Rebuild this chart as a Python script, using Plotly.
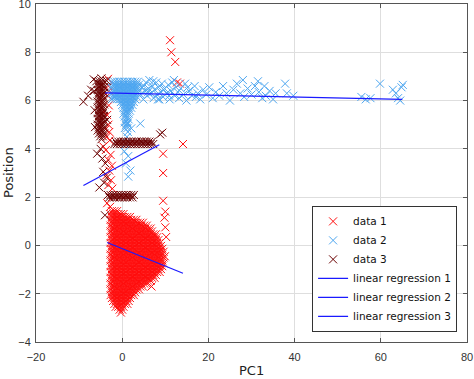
import plotly.graph_objects as go

# ---------------- grid positions (PC1) used by the dense clouds ----------------
grid_a = [-9.0, -8.4, -7.8, -7.2, -6.6, -6.0, -5.4, -4.8, -4.2, -3.6, -3.0, -2.4, -1.8, -1.2,
          -0.6, 0.0, 0.6, 1.2, 1.8, 2.4, 3.0, 3.6, 4.2, 4.8, 5.4, 6.0, 6.6, 7.2, 7.8, 8.4,
          9.0, 9.6, 10.2, 10.8, 11.4, 12.0]
grid_b = [-8.7, -8.1, -7.5, -6.9, -6.3, -5.7, -5.1, -4.5, -3.9, -3.3, -2.7, -2.1, -1.5, -0.9,
          -0.3, 0.3, 0.9, 1.5, 2.1, 2.7, 3.3, 3.9, 4.5, 5.1, 5.7, 6.3, 6.9, 7.5, 8.1, 8.7,
          9.3, 9.9, 10.5, 11.1, 11.7]

# ---------------- data 1 (red): dense cloud rows (Position, PC1 min, PC1 max) ----------------
red_rows = [
    (1.42, -2.8, -1.2), (1.30, -2.8, 0.6), (1.18, -2.8, 2.2), (1.06, -2.8, 3.8),
    (0.94, -2.8, 5.0), (0.82, -2.8, 5.8), (0.70, -2.8, 6.6), (0.58, -2.8, 7.3),
    (0.46, -2.8, 7.8), (0.34, -2.8, 8.3), (0.22, -2.8, 8.8), (0.10, -2.8, 9.2),
    (-0.02, -2.8, 9.5), (-0.14, -2.8, 9.6), (-0.26, -2.8, 9.6), (-0.38, -2.8, 9.6),
    (-0.50, -2.8, 9.6), (-0.62, -2.8, 9.6), (-0.74, -2.8, 9.6), (-0.86, -2.8, 9.4),
    (-0.98, -2.8, 9.1), (-1.10, -2.8, 8.7), (-1.22, -2.8, 8.2), (-1.34, -2.8, 7.6),
    (-1.46, -2.8, 6.8), (-1.58, -2.8, 5.9), (-1.70, -2.8, 5.0), (-1.82, -2.8, 4.0),
    (-1.94, -2.8, 3.3), (-2.06, -2.7, 2.7), (-2.18, -2.5, 2.2), (-2.30, -2.2, 1.7),
    (-2.42, -1.9, 1.2), (-2.54, -1.5, 0.8), (-2.66, -1.1, 0.4), (-2.78, -0.7, 0.0),
]
red_extra_x = [11.1, 11.4, 12.3, 12.7, 13.4, 14.1, 9.5, 9.5, 9.5, 10.0, 10.0, 9.8, 10.2, 9.9, 6.8,
               -3.2, -3.4, -3.1, -3.5, -3.2, -3.0, -3.6, -2.9, -3.8, -2.7, -3.3, -2.4, -3.0,
               -3.7, -2.6, -3.2, -2.3, -3.5, -2.8, -4.4, -3.9, -3.3, -3.0]
red_extra_y = [8.50, 8.00, 7.60, 6.75, 6.70, 4.20, 3.80, 3.00, 1.85, 1.40, 0.75, 1.15, 0.35, -0.45, -1.70,
               6.60, 6.20, 5.80, 5.40, 5.00, 4.70, 4.50, 4.35, 3.95, 3.75, 3.55, 3.30, 3.10,
               2.90, 2.70, 2.50, 2.35, 1.75, 1.60, 4.10, 4.80, 6.90, 6.40]

# ---------------- data 2 (light blue) ----------------
blue_rows = [
    (6.78, -2.6, 3.7), (6.66, -2.6, 3.9), (6.54, -2.6, 3.9), (6.42, -2.6, 3.9),
    (6.30, -2.6, 3.9), (6.18, -2.6, 3.7), (6.06, -2.4, 3.4), (5.94, -0.8, 2.8),
    (5.82, -0.4, 2.4), (5.70, -0.1, 2.1), (5.58, 0.2, 1.9), (5.46, 0.3, 1.8),
    (5.34, 0.4, 1.6), (5.22, 0.5, 1.5), (5.10, 0.6, 1.3), (4.98, 0.6, 1.2), (4.86, 0.6, 1.2),
]
blue_extra_x = [4.3, 4.6, 4.9, 5.2, 5.5, 5.8, 6.1, 6.3, 6.7, 7.0, 7.3, 7.5, 7.9, 8.1, 8.4, 8.6,
                9.0, 9.2, 9.5, 9.8, 10.3, 10.7, 11.0, 11.3, 11.6, 12.2, 12.5, 12.9,
                13.6, 14.2, 14.6, 14.9, 15.5, 16.2, 16.8, 17.5, 18.1, 18.8, 19.5, 20.2, 21.0, 21.7,
                22.5, 23.4, 24.2, 25.0, 25.8, 26.6, 27.4, 28.0, 28.3, 29.1, 30.0, 30.8, 31.5,
                31.7, 32.5, 33.0, 33.3, 34.2, 35.0, 35.6, 37.8, 38.2, 39.7, 55.5, 56.5, 57.6,
                59.8, 62.8, 63.5, 64.0, 64.5, 64.8, 65.1,
                1.2, 2.1, 4.2, 0.5, 1.4, 0.9, 1.9, 1.4, 1.1, 0.8, 1.3,
                5.0, 6.0, 7.2, 8.3, 9.6, 10.9, 12.0, 13.2, 15.2, 17.1]
blue_extra_y = [6.25, 6.55, 6.05, 6.40, 6.75, 6.20, 6.50, 6.85, 6.30, 6.60, 6.10, 6.45, 6.75, 6.25,
                6.55, 6.05, 6.35, 6.70, 6.15, 6.50, 6.30, 6.65, 6.05, 6.40, 6.75, 6.20, 6.55, 6.35,
                6.50, 6.25, 6.70, 6.00, 6.40, 6.20, 6.60, 6.30, 6.05, 6.45, 6.25, 6.55, 6.10, 6.35,
                6.20, 6.60, 6.30, 6.00, 6.45, 6.70, 6.30, 6.85, 6.15, 6.50, 6.25, 6.60, 6.80,
                6.35, 6.10, 6.60, 6.20, 6.40, 6.05, 6.30, 6.70, 6.30, 6.20, 6.15, 6.05, 6.10,
                6.70, 6.45, 6.30, 6.10, 6.00, 6.55, 6.65,
                5.05, 4.85, 5.05, 3.90, 3.70, 3.40, 3.10, 2.85, 4.50, 4.20, 4.70,
                6.60, 6.35, 6.80, 6.05, 6.45, 6.20, 6.85, 6.10, 6.55, 6.15]

# ---------------- data 3 (dark red) ----------------
dark_rows = [
    (6.80, -6.2, -3.9), (6.68, -5.9, -4.0), (6.56, -5.9, -4.0), (6.44, -5.9, -4.0),
    (6.32, -5.9, -4.0), (6.20, -5.9, -4.0), (6.08, -5.9, -4.0), (5.96, -5.9, -4.0),
    (5.84, -5.9, -4.0), (5.72, -5.9, -4.0), (5.60, -5.9, -4.0), (5.48, -5.9, -4.0),
    (5.36, -5.9, -4.0), (5.24, -5.9, -4.0), (5.12, -5.8, -4.0), (5.00, -5.8, -4.0),
    (4.88, -5.7, -4.1), (4.76, -5.7, -4.1), (4.64, -5.6, -4.1), (4.52, -5.5, -4.2),
    (4.40, -5.3, -4.3),
    (4.30, -1.9, 7.4), (4.20, -1.9, 7.4),
    (2.09, -3.5, 2.8), (1.99, -3.5, 2.8),
]
dark_extra_x = [-9.0, -7.9, -7.2, -6.6, -4.8, -3.6, -6.5, -6.4, -3.5, -6.3,
                8.8, 9.3, -5.8, -3.9, -4.4, -5.0, -4.6, -4.2, -3.6, -4.0, -5.3]
dark_extra_y = [5.95, 6.20, 6.45, 6.88, 6.92, 6.82, 6.40, 5.60, 5.20, 4.90,
                4.60, 4.67, 3.80, 3.40, 3.05, 4.00, 3.60, 2.60, 2.80, 1.25, 2.40]

# ---------------- regression lines ----------------
reg1_x = [-3.5, 14.1]
reg1_y = [0.12, -1.15]
reg2_x = [-4.0, 65.0]
reg2_y = [6.32, 6.05]
reg3_x = [-9.0, 8.6]
reg3_y = [2.48, 4.17]

x_ticks = [-20, 0, 20, 40, 60, 80]
y_ticks = [-4, -2, 0, 2, 4, 6, 8, 10]


def build(rows, ex_x, ex_y):
    xs, ys = [], []
    for i, (yv, lo, hi) in enumerate(rows):
        grid = grid_a if i % 2 == 0 else grid_b
        for xv in grid:
            if lo <= xv <= hi:
                xs.append(xv)
                ys.append(yv)
    return xs + list(ex_x), ys + list(ex_y)


r_x, r_y = build(red_rows, red_extra_x, red_extra_y)
b_x, b_y = build(blue_rows, blue_extra_x, blue_extra_y)
d_x, d_y = build(dark_rows, dark_extra_x, dark_extra_y)

RED = "#ff0d0d"
BLUE = "#4da6f0"
DARK = "#6a0000"
LINE = "#1a1aff"

fig = go.Figure()


def scat(x, y, color, name):
    return go.Scatter(x=x, y=y, mode="markers", name=name,
                      marker=dict(symbol="x-thin", size=8, color=color,
                                  line=dict(color=color, width=1)))


fig.add_trace(scat(r_x, r_y, RED, "data 1"))
fig.add_trace(scat(b_x, b_y, BLUE, "data 2"))
fig.add_trace(scat(d_x, d_y, DARK, "data 3"))
for lx, ly, nm in [(reg1_x, reg1_y, "linear regression 1"),
                   (reg2_x, reg2_y, "linear regression 2"),
                   (reg3_x, reg3_y, "linear regression 3")]:
    fig.add_trace(go.Scatter(x=lx, y=ly, mode="lines", name=nm,
                             line=dict(color=LINE, width=1.2)))

axis_common = dict(showline=True, linecolor="#555555", linewidth=1, mirror="ticks",
                   ticks="inside", ticklen=4, tickcolor="#555555", automargin=False,
                   ticklabeloverflow="allow",
                   showgrid=True, gridcolor="#dedede", gridwidth=1, zeroline=False,
                   tickfont=dict(family="Liberation Sans, Arial, sans-serif", size=11, color="#333333"))

fig.update_layout(
    width=474, height=379,
    margin=dict(l=36, r=7, t=4, b=37),
    paper_bgcolor="white", plot_bgcolor="white",
    xaxis=dict(range=[-20, 80], tickvals=x_ticks, ticklabelstandoff=5, **axis_common),
    yaxis=dict(range=[-4, 10], tickvals=y_ticks, ticklabelstandoff=2, **axis_common),
    legend=dict(x=0.977, xanchor="right", y=0.03, yanchor="bottom",
                bgcolor="white", bordercolor="#333333", borderwidth=1,
                font=dict(family="DejaVu Sans, Verdana, sans-serif", size=10.5, color="#111111"),
                tracegroupgap=0, itemwidth=30),
    annotations=[
        dict(text="PC1", x=0.5, y=0, xref="paper", yref="paper", xanchor="center",
             yanchor="middle", yshift=-28, showarrow=False,
             font=dict(family="DejaVu Sans, sans-serif", size=13, color="#222222")),
        dict(text="Position", x=0, y=0.5, xref="paper", yref="paper", xanchor="center",
             yanchor="middle", xshift=-28, textangle=-90, showarrow=False,
             font=dict(family="DejaVu Sans, sans-serif", size=13, color="#222222")),
    ],
    showlegend=True,
)

fig.write_html("out.html", config={"displayModeBar": False},
               post_script="document.body.style.margin='0';")
